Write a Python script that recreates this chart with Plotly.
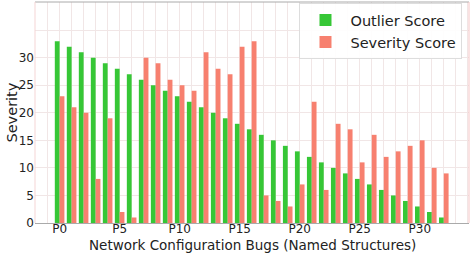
import plotly.graph_objects as go

categories = [f"P{i}" for i in range(33)]
outlier_score = [33, 32, 31, 30, 29, 28, 27, 26, 25, 24, 23, 22, 21, 20, 19, 18, 17,
                 16, 15, 14, 13, 12, 11, 10, 9, 8, 7, 6, 5, 4, 3, 2, 1]
severity_score = [23, 21, 20, 8, 19, 2, 1, 30, 29, 26, 25, 24, 31, 28, 27, 32, 33,
                  5, 4, 3, 7, 22, 6, 18, 17, 11, 16, 12, 13, 14, 15, 10, 9]
tick_labels = ["P0", "P5", "P10", "P15", "P20", "P25", "P30"]
y_ticks = [0, 5, 10, 15, 20, 25, 30, 35]
y_tick_text = ["0", "5", "10", "15", "20", "25", "30", ""]

xpos = list(range(len(categories)))
tick_pos = [categories.index(t) for t in tick_labels]

FONT = "DejaVu Sans"
TXT = "#222222"
GRID = "#f1e6e6"

fig = go.Figure()
fig.add_trace(go.Bar(x=xpos, y=outlier_score, name="Outlier Score", legendgroup="a",
                     marker=dict(color="#36c736", line=dict(width=0)),
                     hovertext=categories))
fig.add_trace(go.Bar(x=xpos, y=severity_score, name="Severity Score", legendgroup="b",
                     marker=dict(color="#f7806f", line=dict(width=0)),
                     hovertext=categories))

fig.update_layout(
    width=474, height=253,
    margin=dict(l=35, r=5, t=2, b=30),
    barmode="group", bargap=0.2, bargroupgap=0,
    plot_bgcolor="white", paper_bgcolor="white",
    font=dict(family=FONT, color=TXT),
    legend=dict(x=0.985, y=0.995, xanchor="right", yanchor="top",
                bgcolor="rgba(255,255,255,0.9)", bordercolor="#dddddd", borderwidth=1,
                font=dict(size=14.5, family=FONT, color=TXT),
                itemwidth=40, tracegroupgap=3, traceorder="normal"),
    xaxis=dict(
        range=[-2.05, 34.1], automargin=False,
        tickmode="array", tickvals=tick_pos, ticktext=tick_labels,
        tickfont=dict(size=12, family=FONT, color=TXT),
        ticks="", ticklen=0, ticklabelstandoff=-5,
        showgrid=True, gridcolor=GRID, gridwidth=1,
        minor=dict(dtick=1, tick0=0, showgrid=True, gridcolor=GRID, gridwidth=1),
        showline=True, linecolor="#aaaaaa", linewidth=1, mirror=False,
        zeroline=False,
    ),
    yaxis=dict(
        range=[0, 40.1], automargin=False,
        tickmode="array", tickvals=y_ticks, ticktext=y_tick_text,
        tickfont=dict(size=12, family=FONT, color=TXT),
        ticks="", showgrid=True, gridcolor=GRID, gridwidth=1,
        showline=False, zeroline=False,
    ),
    annotations=[
        dict(text="Network Configuration Bugs (Named Structures)", xref="paper", yref="paper",
             x=0.5, y=0, xanchor="center", yanchor="middle", yshift=-21.5, showarrow=False,
             font=dict(size=13.5, family=FONT, color=TXT)),
        dict(text="Severity", xref="paper", yref="paper", x=0, y=0.5, textangle=-90,
             xanchor="center", yanchor="middle", xshift=-24, showarrow=False,
             font=dict(size=14.5, family=FONT, color=TXT)),
    ],
)
# frame: top gray line, faint pink sides
fig.add_shape(type="line", xref="paper", yref="paper", x0=0, x1=1, y0=1, y1=1,
              line=dict(color="#aaaaaa", width=1))
fig.add_shape(type="line", xref="paper", yref="paper", x0=0, x1=0, y0=0, y1=1,
              line=dict(color="#f5d5d5", width=1))
fig.add_shape(type="line", xref="paper", yref="paper", x0=1, x1=1, y0=0, y1=1,
              line=dict(color="#f5c5c5", width=1))

fig.write_html("out.html")
